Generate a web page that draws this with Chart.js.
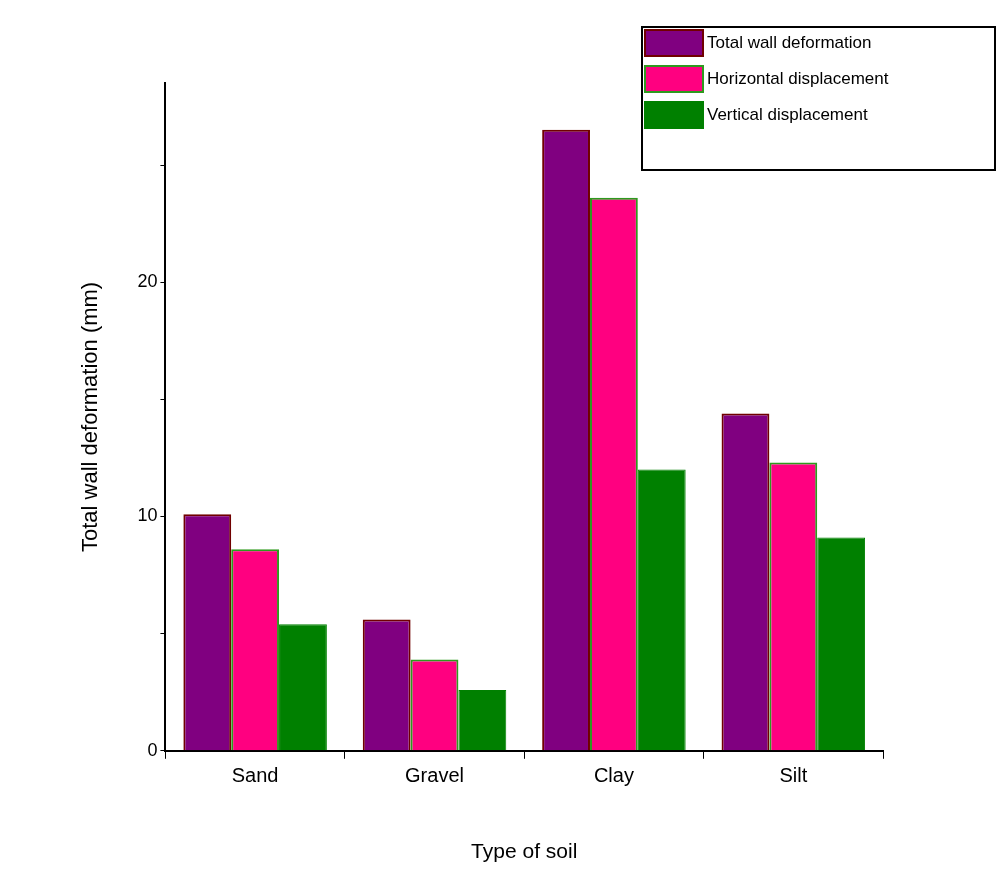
<!DOCTYPE html>
<html><head>
<script src="https://cdn.jsdelivr.net/npm/chart.js@4"></script>
<style>html,body{margin:0;background:#fff}#wrap{width:1003px;height:874px}</style>
</head><body>
<div id="wrap"><canvas id="barChart"></canvas></div>
<script>
const soils = ['Sand', 'Gravel', 'Clay', 'Silt'];
const totalDef = [10.1, 5.6, 26.5, 14.4];
const horizDisp = [8.6, 3.9, 23.6, 12.3];
const vertDisp = [5.4, 2.6, 12.0, 9.1];

// legend drawn in a framed box top right, like the original
const boxLegend = {
  id: 'boxLegend',
  afterDraw(chart) {
    const ctx = chart.ctx;
    ctx.save();
    ctx.strokeStyle = '#000';
    ctx.lineWidth = 2;
    ctx.strokeRect(642, 27, 353, 143);
    ctx.font = '17px "Liberation Sans", Arial';
    ctx.textBaseline = 'middle';
    chart.data.datasets.forEach((ds, i) => {
      const y = 30 + i * 36;
      ctx.fillStyle = ds.backgroundColor;
      ctx.fillRect(645, y, 58, 26);
      ctx.strokeStyle = ds.borderColor;
      ctx.lineWidth = 2;
      ctx.strokeRect(645, y, 58, 26);
      ctx.fillStyle = '#000';
      ctx.fillText(ds.label, 707, y + 13);
    });
    ctx.restore();
  }
};

new Chart(document.getElementById('barChart'), {
  type: 'bar',
  data: {
    labels: soils,
    datasets: [
      {label: 'Total wall deformation', data: totalDef, backgroundColor: '#800080', borderColor: '#700000', borderWidth: 2},
      {label: 'Horizontal displacement', data: horizDisp, backgroundColor: '#ff0080', borderColor: '#2e9a1e', borderWidth: 2},
      {label: 'Vertical displacement', data: vertDisp, backgroundColor: '#008000', borderColor: '#008000', borderWidth: 1}
    ]
  },
  options: {
    responsive: true,
    maintainAspectRatio: false,
    animation: false,
    layout: {padding: {left: 74, right: 120, top: 83, bottom: 5}},
    datasets: {bar: {categoryPercentage: 0.8, barPercentage: 1.0}},
    plugins: {legend: {display: false}, tooltip: {enabled: false}},
    scales: {
      x: {
        grid: {offset: true, drawOnChartArea: false, drawTicks: true, tickLength: 8, color: '#000'},
        border: {color: '#000', width: 2},
        ticks: {color: '#000', font: {size: 20, family: '"Liberation Sans", Arial'}, padding: 6},
        title: {display: true, text: 'Type of soil', color: '#000', font: {size: 21, family: '"Liberation Sans", Arial'}, padding: {top: 45}}
      },
      y: {
        min: 0, max: 28.5,
        afterBuildTicks(axis) { axis.ticks = [0, 5, 10, 15, 20, 25].map(v => ({value: v})); },
        grid: {drawOnChartArea: false, drawTicks: true, tickLength: ctx => (ctx.tick && ctx.tick.value % 10 === 0 ? 8 : 5), color: '#000'},
        border: {color: '#000', width: 2},
        ticks: {color: '#000', font: {size: 18, family: '"Liberation Sans", Arial'},
          callback: v => (v % 10 === 0 ? v : '')},
        title: {display: true, text: 'Total wall deformation (mm)', color: '#000', font: {size: 22, family: '"Liberation Sans", Arial'}, padding: {bottom: 30}}
      }
    }
  },
  plugins: [boxLegend]
});
</script>
</body></html>
